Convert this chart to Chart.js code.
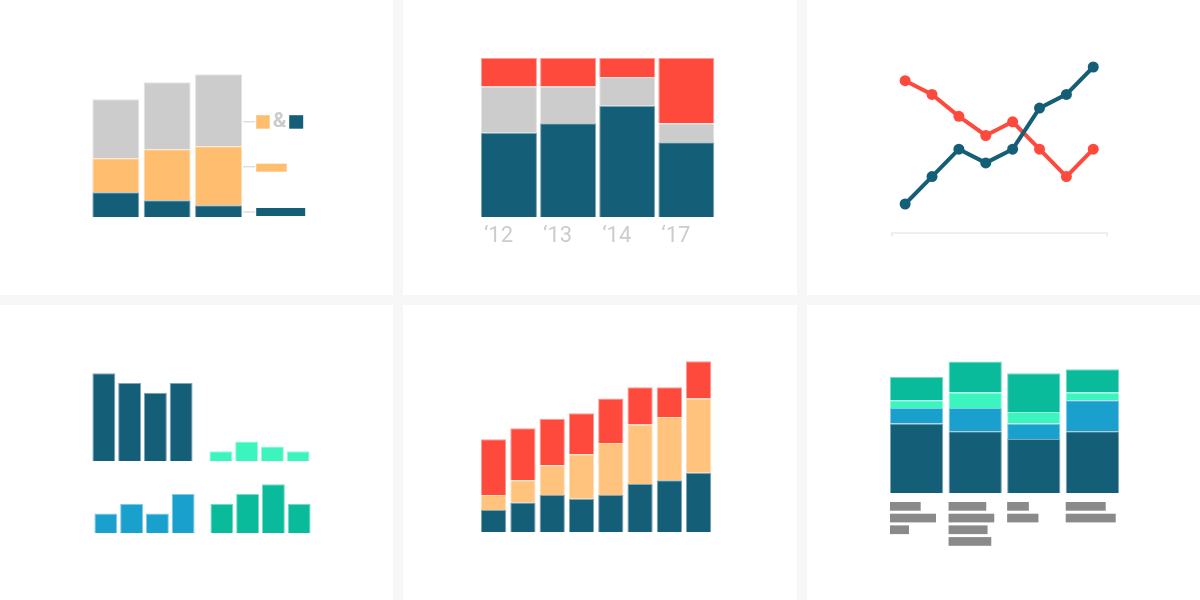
<!doctype html>
<html lang="en">
<head>
  <meta charset="utf-8">
  <title>Chart types</title>
  <style type="text/css">
    body { margin: 0; background: #f7f7f7; }
    #board { position: relative; width: 1200px; height: 600px; background: #f7f7f7; overflow: hidden; }
    .panel { position: absolute; background: #fff; overflow: hidden; }
    .panel canvas { position: absolute; left: 0; top: 0; }
  </style>
</head>
<body>
  <div id="board">
    <div class="panel" style="left:0;top:0;width:393px;height:295px">
      <canvas id="chart_groups" width="393" height="295"></canvas>
    </div>
    <div class="panel" style="left:403px;top:0;width:394px;height:295px">
      <canvas id="chart_share" width="394" height="295"></canvas>
    </div>
    <div class="panel" style="left:807px;top:0;width:393px;height:295px">
      <canvas id="chart_lines" width="393" height="295"></canvas>
    </div>
    <div class="panel" style="left:0;top:305px;width:393px;height:295px">
      <canvas id="multi_dark" width="103" height="100" style="left:91px;top:56px"></canvas>
      <canvas id="multi_mint" width="103" height="100" style="left:208px;top:56px"></canvas>
      <canvas id="multi_blue" width="103" height="50" style="left:93px;top:178px"></canvas>
      <canvas id="multi_teal" width="103" height="50" style="left:209px;top:178px"></canvas>
    </div>
    <div class="panel" style="left:403px;top:305px;width:394px;height:295px">
      <canvas id="chart_growth" width="394" height="295"></canvas>
    </div>
    <div class="panel" style="left:807px;top:305px;width:393px;height:295px">
      <canvas id="chart_parts" width="393" height="295"></canvas>
    </div>
  </div>

  <script src="https://cdn.jsdelivr.net/npm/chart.js"></script>

  <script>
    // top left: three stacked columns
    const groupLabels = ['A', 'B', 'C'];
    const groupDark = [25, 17, 12];
    const groupOrange = [34, 51, 59];
    const groupGray = [59, 67, 72];

    // top middle: 100% stacked columns
    const shareTicks = ['\u201812', '\u201813', '\u201814', '\u201817'];
    const shareDark = [53, 59, 70, 47];
    const shareGray = [29, 23, 18, 12];
    const shareRed = [18, 18, 12, 41];

    // top right: two lines
    const lineLabels = ['1', '2', '3', '4', '5', '6', '7', '8'];
    const lineRed = [9, 8, 6.4, 5, 6, 4, 2, 4];
    const lineDark = [0, 2, 4, 3, 4, 7, 8, 10];

    // bottom left + bottom right: same four parts
    const partLabels = ['Q1', 'Q2', 'Q3', 'Q4'];
    const partDark = [9, 8, 7, 8];
    const partBlue = [2, 3, 2, 4];
    const partMint = [1, 2, 1.5, 1];
    const partTeal = [3, 4, 5, 3];

    // bottom middle: growing stacks
    const growthLabels = ['1', '2', '3', '4', '5', '6', '7', '8'];
    const growthDark = [6, 8, 10, 9, 10, 13, 14, 16];
    const growthOrange = [4, 6, 8, 12, 14, 16, 17, 20];
    const growthRed = [15, 14, 12.5, 11, 12, 10, 8, 10];

    const colors = {
      dark: '#155e78',
      orange: '#ffbd70',
      orangeSoft: '#ffc37d',
      gray: '#cccccc',
      red: '#fe4a3c',
      blue: '#1aa0cd',
      mint: '#3cf4be',
      teal: '#0abb9b',
      block: '#8a8a8a',
      tick: '#cccccc',
      rule: '#eeeeee'
    };

    function tint(hex, t) {
      var n = parseInt(hex.slice(1), 16);
      var r = (n >> 16) & 255, g = (n >> 8) & 255, b = n & 255;
      r = Math.round(r + (255 - r) * t);
      g = Math.round(g + (255 - g) * t);
      b = Math.round(b + (255 - b) * t);
      return 'rgb(' + r + ',' + g + ',' + b + ')';
    }

    function barSet(values, color, pct) {
      return {
        data: values,
        backgroundColor: color,
        borderColor: tint(color, 0.45),
        borderWidth: 1,
        barPercentage: pct,
        categoryPercentage: 1
      };
    }

    function stackedBars(id, labels, datasets, max, padding, xScale, plugins) {
      return new Chart(document.getElementById(id), {
        type: 'bar',
        data: { labels: labels, datasets: datasets },
        options: {
          responsive: false,
          animation: false,
          layout: { padding: padding },
          plugins: { legend: { display: false }, tooltip: { enabled: false } },
          scales: {
            x: xScale || { stacked: true, display: false },
            y: { stacked: true, display: false, min: 0, max: max }
          }
        },
        plugins: plugins || []
      });
    }

    // little key on the right of the first chart
    const pairKey = {
      id: 'pairKey',
      afterDraw(chart) {
        var ctx = chart.ctx;
        var x0 = chart.chartArea.right;
        var y = chart.scales.y;
        var levels = [95.6, 50.6, 5.3];
        ctx.save();
        ctx.strokeStyle = '#dedede';
        ctx.lineWidth = 1.5;
        levels.forEach(function (v) {
          var py = y.getPixelForValue(v);
          ctx.beginPath();
          ctx.moveTo(x0 - 1, py);
          ctx.lineTo(x0 + 11, py);
          ctx.stroke();
        });

        var p0 = y.getPixelForValue(levels[0]);
        ctx.fillStyle = colors.orange;
        ctx.fillRect(x0 + 12, p0 - 6.5, 13.5, 13.5);
        ctx.fillStyle = colors.gray;
        ctx.font = 'bold 21px Roboto';
        ctx.textBaseline = 'middle';
        ctx.fillText('&', x0 + 28.5, p0 + 0.5);
        ctx.fillStyle = colors.dark;
        ctx.fillRect(x0 + 45, p0 - 6.5, 14, 13.5);

        var p1 = y.getPixelForValue(levels[1]);
        ctx.fillStyle = colors.orange;
        ctx.fillRect(x0 + 12, p1 - 3, 30.5, 8);

        var p2 = y.getPixelForValue(levels[2]);
        ctx.fillStyle = colors.dark;
        ctx.fillRect(x0 + 12, p2 - 4, 49, 8);
        ctx.restore();
      }
    };

    // grey placeholder label lines under each column
    const labelBlocks = {
      id: 'labelBlocks',
      afterDraw(chart) {
        var ctx = chart.ctx;
        var rows = [[30.7, 46, 19], [37.7, 45.7, 39, 42.7], [21.7, 31.3], [40, 50]];
        var top = chart.chartArea.bottom + 8.7;
        ctx.save();
        ctx.fillStyle = colors.block;
        chart.getDatasetMeta(0).data.forEach(function (bar, i) {
          var left = bar.x - bar.width / 2;
          rows[i].forEach(function (w, j) {
            ctx.fillRect(left, top + j * 11.7, w, 8.7);
          });
        });
        ctx.restore();
      }
    };

    stackedBars('chart_groups', groupLabels, [
      barSet(groupDark, colors.dark, 0.914),
      barSet(groupOrange, colors.orange, 0.914),
      barSet(groupGray, colors.gray, 0.914)
    ], 150, { left: 90.1, top: 67.3, right: 148.8, bottom: 77.7 }, null, [pairKey]);

    stackedBars('chart_share', shareTicks, [
      barSet(shareDark, colors.dark, 0.947),
      barSet(shareGray, colors.gray, 0.947),
      barSet(shareRed, colors.red, 0.947)
    ], 100, { left: 76.4, top: 58, right: 81.1, bottom: 39.6 }, {
      stacked: true,
      grid: { display: false, drawTicks: false },
      border: { display: false },
      ticks: {
        color: colors.tick,
        font: { family: 'Roboto', size: 22 },
        padding: 6,
        align: 'start',
        labelOffset: -25,
        maxRotation: 0,
        autoSkip: false
      }
    });

    new Chart(document.getElementById('chart_lines'), {
      type: 'line',
      data: {
        labels: lineLabels,
        datasets: [{
          data: lineDark,
          borderColor: colors.dark,
          backgroundColor: colors.dark,
          borderWidth: 4,
          pointRadius: 5.5,
          pointBorderWidth: 0,
          clip: false
        }, {
          data: lineRed,
          borderColor: colors.red,
          backgroundColor: colors.red,
          borderWidth: 4,
          pointRadius: 5.5,
          pointBorderWidth: 0,
          clip: false
        }]
      },
      options: {
        responsive: false,
        animation: false,
        layout: { padding: { left: 84.7, top: 67, right: 93.3, bottom: 58.5 } },
        plugins: { legend: { display: false }, tooltip: { enabled: false } },
        scales: {
          x: {
            offset: true,
            grid: {
              offset: true,
              drawOnChartArea: false,
              drawTicks: true,
              tickLength: 4,
              lineWidth: 2,
              color: function (c) {
                return (c.index === 0 || c.index === undefined) ? colors.rule : 'rgba(0,0,0,0)';
              }
            },
            border: { display: true, color: colors.rule, width: 2 },
            ticks: { display: false }
          },
          y: { display: false, min: -2.08, max: 10 }
        }
      }
    });

    function miniBars(id, values, color, max) {
      return stackedBars(id, partLabels, [barSet(values, color, 0.891)], max, 0);
    }

    miniBars('multi_dark', partDark, colors.dark, 10.26);
    miniBars('multi_mint', partMint, colors.mint, 10.26);
    miniBars('multi_blue', partBlue, colors.blue, 5.13);
    miniBars('multi_teal', partTeal, colors.teal, 5.13);

    stackedBars('chart_growth', growthLabels, [
      barSet(growthDark, colors.dark, 0.864),
      barSet(growthOrange, colors.orangeSoft, 0.864),
      barSet(growthRed, colors.red, 0.864)
    ], 47.66, { left: 76, top: 50, right: 83.7, bottom: 67.7 });

    stackedBars('chart_parts', partLabels, [
      barSet(partDark, colors.dark, 0.91),
      barSet(partBlue, colors.blue, 0.91),
      barSet(partMint, colors.mint, 0.91),
      barSet(partTeal, colors.teal, 0.91)
    ], 17.85, { left: 80.35, top: 50, right: 78.35, bottom: 106.7 }, null, [labelBlocks]);
  </script>
</body>
</html>
